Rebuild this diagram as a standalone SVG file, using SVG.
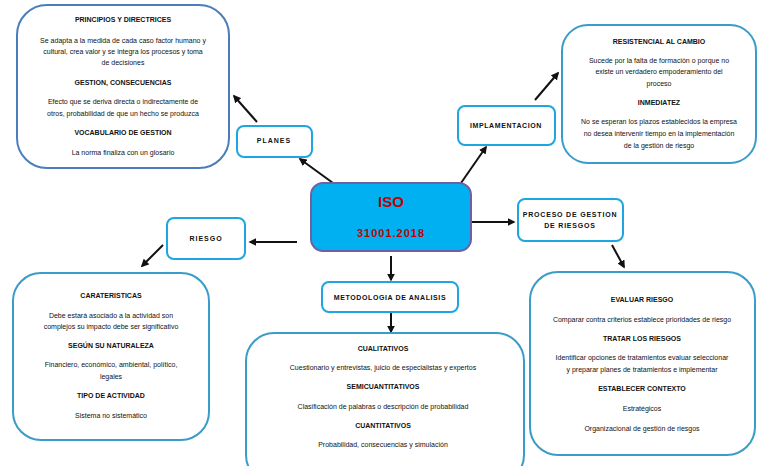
<svg xmlns="http://www.w3.org/2000/svg" width="768" height="466" viewBox="0 0 768 466">
<style>
text{font-family:"Liberation Sans",Arial,sans-serif;font-size:7px;fill:#111;text-anchor:middle}
.h{font-weight:bold}
.big{fill:#fff;stroke:#3a9cc8;stroke-width:2}
.lbl{fill:#fff;stroke:#1ea6e0;stroke-width:2}
.c{stroke:#111;stroke-width:2;fill:none;marker-end:url(#a)}
</style>
<defs><marker id="a" viewBox="0 0 10 10" refX="8" refY="5" markerWidth="4" markerHeight="4" orient="auto"><path d="M0,0L10,5L0,10z" fill="#111"/></marker></defs>
<rect width="768" height="466" fill="#fff"/>
<g id="connectors">
<line class="c" x1="333" y1="183" x2="300" y2="159"/>
<line class="c" x1="257" y1="122" x2="234" y2="96"/>
<line class="c" x1="461" y1="183" x2="486" y2="147"/>
<line class="c" x1="535" y1="100" x2="558" y2="73"/>
<line class="c" x1="471" y1="222" x2="514" y2="222"/>
<line class="c" x1="612" y1="245" x2="624" y2="267"/>
<line class="c" x1="297" y1="242" x2="250" y2="242"/>
<line class="c" x1="163" y1="245" x2="142" y2="266"/>
<line class="c" x1="391" y1="256" x2="391" y2="280"/>
<line class="c" x1="391" y1="312" x2="391" y2="332"/>
</g>
<g id="principios">
<rect x="17" y="5" width="212" height="163" rx="30" fill="#fff" stroke="#4a7ebb" stroke-width="2"/>
<text x="123" y="22" class="h">PRINCIPIOS Y DIRECTRICES</text>
<text x="123" y="43">Se adapta a la medida de cada caso factor  humano y</text>
<text x="123" y="54">cultural, crea valor y se integra  los procesos y toma</text>
<text x="123" y="65">de decisiones</text>
<text x="123" y="85" class="h">GESTION, CONSECUENCIAS</text>
<text x="123" y="104">Efecto que se deriva directa o indirectamente de</text>
<text x="123" y="116">otros, probabilidad de que un hecho se produzca</text>
<text x="123" y="135" class="h">VOCABULARIO DE GESTION</text>
<text x="123" y="155">La norma finaliza con un glosario</text>
</g>
<g id="planes"><rect class="lbl" x="237" y="126" width="75" height="31" rx="7"/><text x="274" y="143" class="h" letter-spacing="1">PLANES</text></g>
<g id="iso">
<rect x="311" y="183" width="160" height="68" rx="12" fill="#00b0f0" stroke="#7060a0" stroke-width="2"/>
<text x="391" y="207" class="h" style="font-size:15px;fill:#c00000">ISO</text>
<text x="391" y="237" class="h" style="font-size:11px;fill:#c00000" letter-spacing="1">31001.2018</text>
</g>
<g id="implementacion"><rect class="lbl" x="458" y="106" width="97" height="39" rx="7"/><text x="506" y="128" class="h" letter-spacing="0.6">IMPLAMENTACION</text></g>
<g id="resistencia">
<rect class="big" x="562" y="25" width="194" height="138" rx="26"/>
<text x="659" y="44" class="h">RESISTENCIAL AL CAMBIO</text>
<text x="659" y="63">Sucede por la falta de formación o porque no</text>
<text x="659" y="74">existe un verdadero empoderamiento del</text>
<text x="659" y="86">proceso</text>
<text x="659" y="105" class="h">INMEDIATEZ</text>
<text x="659" y="124">No se esperan los plazos establecidos la empresa</text>
<text x="659" y="136">no desea intervenir tiempo en la implementación</text>
<text x="659" y="148">de la gestión de riesgo</text>
</g>
<g id="proceso"><rect class="lbl" x="518" y="199" width="105" height="42" rx="7"/><text x="570" y="217" class="h" letter-spacing="0.8">PROCESO DE GESTION</text><text x="570" y="228" class="h" letter-spacing="0.8">DE RIESGOS</text></g>
<g id="evaluar">
<rect class="big" x="530" y="272" width="225" height="183" rx="28"/>
<text x="642" y="302" class="h">EVALUAR RIESGO</text>
<text x="642" y="322">Comparar contra criterios establece prioridades de riesgo</text>
<text x="642" y="341" class="h">TRATAR LOS RIESGOS</text>
<text x="642" y="360">Identificar opciones de tratamientos evaluar seleccionar</text>
<text x="642" y="372">y preparar  planes  de tratamientos e  implementar</text>
<text x="642" y="391" class="h">ESTABLECER CONTEXTO</text>
<text x="642" y="411">Estratégicos</text>
<text x="642" y="431">Organizacional de gestión de riesgos</text>
</g>
<g id="riesgo"><rect class="lbl" x="167" y="218" width="78" height="41" rx="7"/><text x="206" y="241" class="h" letter-spacing="1">RIESGO</text></g>
<g id="caracteristicas">
<rect class="big" x="13" y="273" width="196" height="167" rx="28"/>
<text x="111" y="298" class="h">CARATERISTICAS</text>
<text x="111" y="318">Debe estará asociado a la actividad son</text>
<text x="111" y="329">complejos su impacto debe ser significativo</text>
<text x="111" y="348" class="h">SEGÚN SU NATURALEZA</text>
<text x="111" y="367">Financiero, económico, ambiental, político,</text>
<text x="111" y="379">legales</text>
<text x="111" y="398" class="h">TIPO DE ACTIVIDAD</text>
<text x="111" y="418">Sistema no sistemático</text>
</g>
<g id="metodologia"><rect class="lbl" x="322" y="282" width="136" height="30" rx="7"/><text x="390" y="300" class="h" letter-spacing="0.6">METODOLOGIA DE ANALISIS</text></g>
<g id="cualitativos">
<rect class="big" x="246" y="333" width="278" height="150" rx="28"/>
<text x="383" y="351" class="h">CUALITATIVOS</text>
<text x="383" y="370">Cuestionario y entrevistas, juicio de especialistas y expertos</text>
<text x="383" y="389" class="h">SEMICUANTITATIVOS</text>
<text x="383" y="409">Clasificación de palabras o descripción de probabilidad</text>
<text x="383" y="428" class="h">CUANTITATIVOS</text>
<text x="383" y="447">Probabilidad, consecuencias y simulación</text>
</g>
</svg>
